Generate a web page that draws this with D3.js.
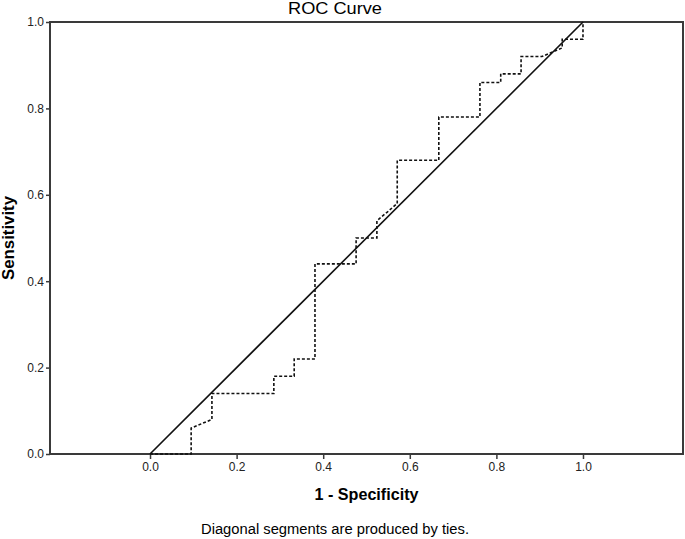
<!DOCTYPE html>
<html>
<head>
<meta charset="utf-8">
<script src="https://cdn.jsdelivr.net/npm/d3@7"></script>
<style>
  body { margin: 0; background: #fff; }
  svg text { font-family: "Liberation Sans", Arial, sans-serif; }
</style>
</head>
<body>
<div id="chart"></div>
<script>
var w = 685, h = 539;

// ROC curve steps (1 - specificity, sensitivity)
var fpr = [0, 0.095, 0.095, 0.143, 0.143, 0.286, 0.286, 0.333, 0.333, 0.381, 0.381,
           0.476, 0.476, 0.524, 0.524, 0.548, 0.571, 0.571, 0.667, 0.667, 0.762, 0.762,
           0.810, 0.810, 0.857, 0.857, 0.905, 0.952, 0.952, 1.0, 1.0];
var tpr = [0, 0, 0.06, 0.08, 0.14, 0.14, 0.18, 0.18, 0.22, 0.22, 0.44,
           0.44, 0.50, 0.50, 0.54, 0.56, 0.58, 0.68, 0.68, 0.78, 0.78, 0.86,
           0.86, 0.88, 0.88, 0.92, 0.92, 0.94, 0.96, 0.96, 1.0];
var refX = [0, 1];
var refY = [0, 1];
var tickValues = [0, 0.2, 0.4, 0.6, 0.8, 1.0];

var plotLeft = 50, plotRight = 683, plotTop = 22, plotBottom = 454;

var xScale = d3.scaleLinear()
  .domain([-0.231, 1.231])
  .range([plotLeft, plotRight]);

var yScale = d3.scaleLinear()
  .domain([0, 1])
  .range([plotBottom, plotTop]);

var svg = d3.select("#chart")
  .append("svg")
  .attr("width", w)
  .attr("height", h);

// frame
svg.append("rect")
  .attr("x", plotLeft)
  .attr("y", plotTop)
  .attr("width", plotRight - plotLeft)
  .attr("height", plotBottom - plotTop)
  .attr("fill", "none")
  .attr("stroke", "#3a3a3a")
  .attr("stroke-width", 2);

var xAxis = d3.axisBottom(xScale)
  .tickValues(tickValues)
  .tickFormat(d3.format(".1f"))
  .tickSize(5)
  .tickPadding(3);

var yAxis = d3.axisLeft(yScale)
  .tickValues(tickValues)
  .tickFormat(d3.format(".1f"))
  .tickSize(4)
  .tickPadding(2);

var gx = svg.append("g")
  .attr("transform", "translate(0," + plotBottom + ")")
  .call(xAxis);
gx.select(".domain").remove();

var gy = svg.append("g")
  .attr("transform", "translate(" + plotLeft + ",0)")
  .call(yAxis);
gy.select(".domain").remove();

svg.selectAll(".tick line")
  .attr("stroke", "#3a3a3a")
  .attr("stroke-width", 1.5);

svg.selectAll(".tick text")
  .attr("font-family", "Liberation Sans, Arial, sans-serif")
  .attr("font-size", 12)
  .attr("fill", "#222");

var rocData = fpr.map(function(d, i) { return [d, tpr[i]]; });
var refData = refX.map(function(d, i) { return [d, refY[i]]; });

var line = d3.line()
  .x(function(d) { return xScale(d[0]); })
  .y(function(d) { return yScale(d[1]); });

svg.append("path")
  .datum(refData)
  .attr("d", line)
  .attr("fill", "none")
  .attr("stroke", "#111")
  .attr("stroke-width", 1.6);

svg.append("path")
  .datum(rocData)
  .attr("d", line)
  .attr("fill", "none")
  .attr("stroke", "#111")
  .attr("stroke-width", 1.6)
  .attr("stroke-dasharray", "3,2");

// titles
svg.append("text")
  .attr("x", 335)
  .attr("y", 14)
  .attr("text-anchor", "middle")
  .attr("font-size", 17)
  .attr("textLength", 94)
  .attr("lengthAdjust", "spacingAndGlyphs")
  .text("ROC Curve");

svg.append("text")
  .attr("x", (plotLeft + plotRight) / 2)
  .attr("y", 500)
  .attr("text-anchor", "middle")
  .attr("font-size", 16)
  .attr("font-weight", "bold")
  .attr("textLength", 104)
  .attr("lengthAdjust", "spacingAndGlyphs")
  .text("1 - Specificity");

svg.append("text")
  .attr("transform", "translate(14," + ((plotTop + plotBottom) / 2) + ") rotate(-90)")
  .attr("text-anchor", "middle")
  .attr("font-size", 16)
  .attr("font-weight", "bold")
  .attr("textLength", 84)
  .attr("lengthAdjust", "spacingAndGlyphs")
  .text("Sensitivity");

svg.append("text")
  .attr("x", 335)
  .attr("y", 534)
  .attr("text-anchor", "middle")
  .attr("font-size", 14)
  .attr("textLength", 268)
  .attr("lengthAdjust", "spacingAndGlyphs")
  .text("Diagonal segments are produced by ties.");
</script>
</body>
</html>
